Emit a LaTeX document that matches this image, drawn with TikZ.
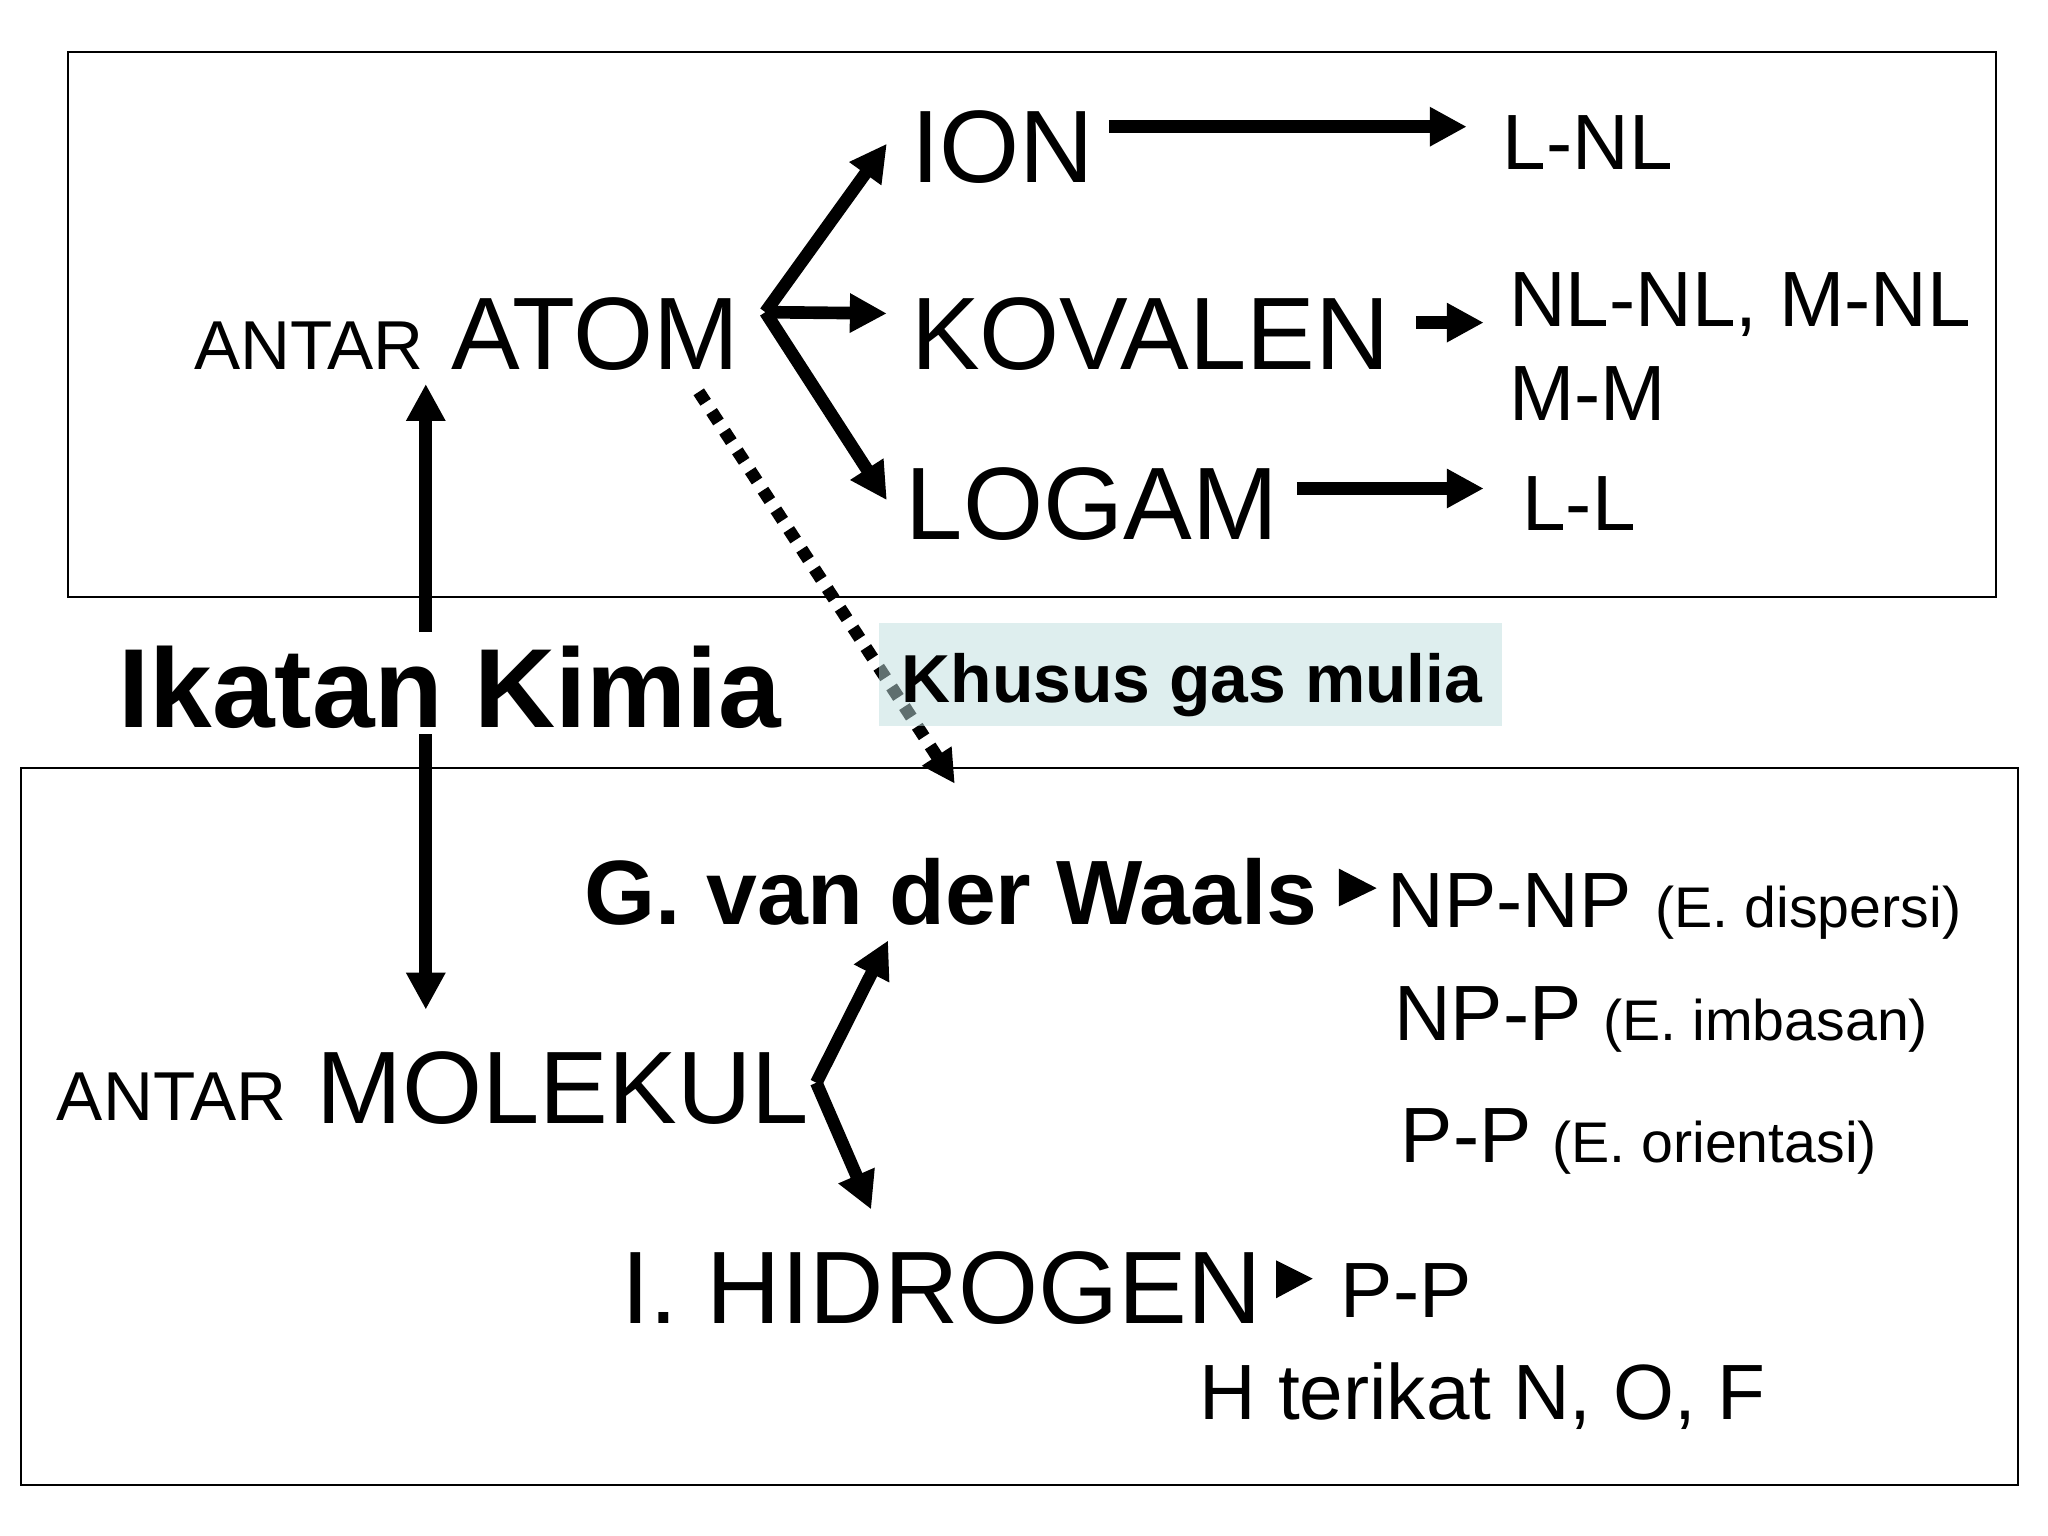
\documentclass[tikz,border=0pt]{standalone}
\usepackage{fontspec}
\setmainfont{Liberation Sans}
\usetikzlibrary{arrows.meta}
\definecolor{notefill}{RGB}{190,222,222}

\begin{document}
\begin{tikzpicture}[x=0.0130612cm,y=-0.0130612cm]
            \tikzstyle{every node}=[inner sep=0pt,anchor=base west]
            \tikzstyle{bigtext}=[font=\fontsize{29.3}{31}\selectfont]
            \tikzstyle{antartext}=[font=\fontsize{19.7}{21}\selectfont]
            \tikzstyle{midtext}=[font=\fontsize{22.3}{24}\selectfont]
            \tikzstyle{smalltext}=[font=\fontsize{16.3}{18}\selectfont]
            \tikzstyle{arr}=[line width=3.6pt,-{Triangle[length=0.37cm,width=0.37cm]}]
            \tikzstyle{frame}=[line width=0.6pt]
            \useasboundingbox (0,0) rectangle (1568,1176);
            \draw[frame] (52,40) rectangle (1528,457);
            \draw[frame] (16,588) rectangle (1545,1137);
            % antar atom
            \node[antartext] (antaratom) at (148,283) {ANTAR};
            \node[bigtext] (atom) at (345,283) {ATOM};
            \node[bigtext] (ion) at (697,140) {ION};
            \node[bigtext] (kovalen) at (697,283) {KOVALEN};
            \node[bigtext] (logam) at (693,413) {LOGAM};
            \node[midtext] (lnl) at (1150,130) {L-NL};
            \node[midtext] (nlnl) at (1155,250) {NL-NL, M-NL};
            \node[midtext] (mm) at (1155,322) {M-M};
            \node[midtext] (ll) at (1165,406) {L-L};
            \coordinate (atomfork) at (586,239);
            \coordinate (iontip) at (679,110);
            \coordinate (kovtip) at (679,240);
            \coordinate (logtip) at (679,383);
            \draw[arr] (atomfork) -- (iontip);
            \draw[arr] (atomfork) -- (kovtip);
            \draw[arr] (atomfork) -- (logtip);
            \coordinate (ionend) at (849,97);
            \coordinate (lnltip) at (1123,97);
            \coordinate (kovend) at (1084,247);
            \coordinate (nlnltip) at (1136,247);
            \coordinate (logend) at (993,374);
            \coordinate (lltip) at (1136,374);
            \draw[arr] (ionend) -- (lnltip);
            \draw[arr] (kovend) -- (nlnltip);
            \draw[arr] (logend) -- (lltip);
            % ikatan kimia
            \node[font=\bfseries\fontsize{32}{34}\selectfont] (ikatan) at (90,557) {Ikatan Kimia};
            \coordinate (upfoot) at (326,484);
            \coordinate (uptip) at (326,294);
            \coordinate (downfoot) at (326,562);
            \coordinate (downtip) at (326,773);
            \draw[arr] (upfoot) -- (uptip);
            \draw[arr] (downfoot) -- (downtip);
            \coordinate (dotfoot) at (535,300);
            \coordinate (dottip) at (731,600);
            \draw[line width=0.125cm,dash pattern=on 0.125cm off 0.11cm,-{Triangle[length=0.33cm,width=0.33cm]}] (dotfoot) -- (dottip);
            \fill[notefill,fill opacity=0.5] (673,477) rectangle (1150,556);
            \node[font=\bfseries\fontsize{19.3}{21}\selectfont] (khusus) at (690,538) {Khusus gas mulia};
            % antar molekul
            \node[antartext] (antarmol) at (43,858) {ANTAR};
            \node[bigtext] (molekul) at (242,860) {MOLEKUL};
            \node[font=\bfseries\fontsize{26}{28}\selectfont] (waals) at (447,708) {G. van der Waals};
            \node[bigtext] (hidrogen) at (475,1013) {I. HIDROGEN};
            \coordinate (molfork) at (625,829);
            \coordinate (waalstip) at (680,720);
            \coordinate (hidrotip) at (667,926);
            \draw[arr] (molfork) -- (waalstip);
            \draw[arr] (molfork) -- (hidrotip);
            \fill (1025,665) -- (1054,680) -- (1025,694) -- cycle;
            \node[midtext] (npnp) at (1062,710) {NP-NP};
            \node[smalltext] (dispersi) at (1267,710) {(E. dispersi)};
            \node[midtext] (npp) at (1067,797) {NP-P};
            \node[smalltext] (imbasan) at (1227,797) {(E. imbasan)};
            \node[midtext] (pp) at (1072,890) {P-P};
            \node[smalltext] (orientasi) at (1188,890) {(E. orientasi)};
            \fill (977,965) -- (1005,979) -- (977,994) -- cycle;
            \node[midtext] (pphidro) at (1026,1009) {P-P};
            \node[midtext] (hterikat) at (918,1087) {H terikat N, O, F};
\end{tikzpicture}
\end{document}
